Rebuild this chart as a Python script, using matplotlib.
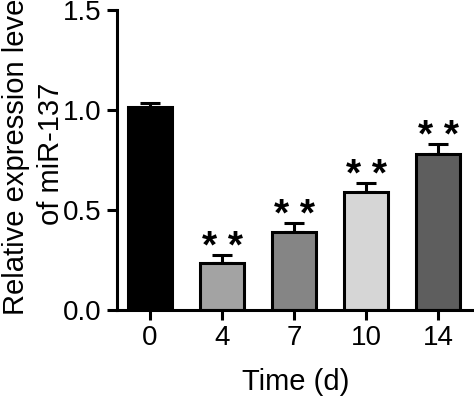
import numpy as np
import matplotlib.pyplot as plt

plt.rcParams['font.family'] = ['Liberation Sans', 'DejaVu Sans']

# Dados
days = ['0', '4', '7', '10', '14']
expression = [1.016, 0.237, 0.39, 0.592, 0.778]
errors = [0.02, 0.04, 0.043, 0.041, 0.05]
stars = ['', '**', '**', '**', '**']
bar_colors = ['#000000', '#a3a3a3', '#858585', '#d6d6d6', '#5e5e5e']

fig = plt.figure(figsize=(4.74, 3.99), dpi=100)
ax = fig.add_axes([0.247, 0.223, 0.753, 0.752])

x = np.arange(len(days))
ax.bar(x, expression, width=0.61, color=bar_colors, edgecolor='black', linewidth=2.2, zorder=2)
ax.errorbar(x, expression, yerr=[np.zeros(len(errors)), errors], fmt='none',
            ecolor='black', elinewidth=2.2, capsize=7, capthick=2.2, zorder=1)

for xi, val, err, s in zip(x, expression, errors, stars):
    if s:
        ax.text(xi, val + err + 0.035, '* *', ha='center', va='center',
                fontsize=28, fontweight='bold')

ax.set_xlim(-0.458, 4.5)
ax.set_ylim(0, 1.5)
ax.set_yticks([0.0, 0.5, 1.0, 1.5])
ax.set_yticklabels(['0.0', '0.5', '1.0', '1.5'])
ax.set_xticks(x)
ax.set_xticklabels(days)

for side in ['top', 'right']:
    ax.spines[side].set_visible(False)
for side in ['left', 'bottom']:
    ax.spines[side].set_linewidth(2.2)

ax.tick_params(axis='both', width=2.2, length=7, labelsize=20, direction='out', pad=4)
ax.set_xlabel('Time (d)', fontsize=21, labelpad=12)
ax.set_ylabel('Relative expression level\nof miR-137', fontsize=21, linespacing=1.35)
ax.yaxis.set_label_coords(-0.145, 0.52)

fig.savefig('out.png', dpi=100)
